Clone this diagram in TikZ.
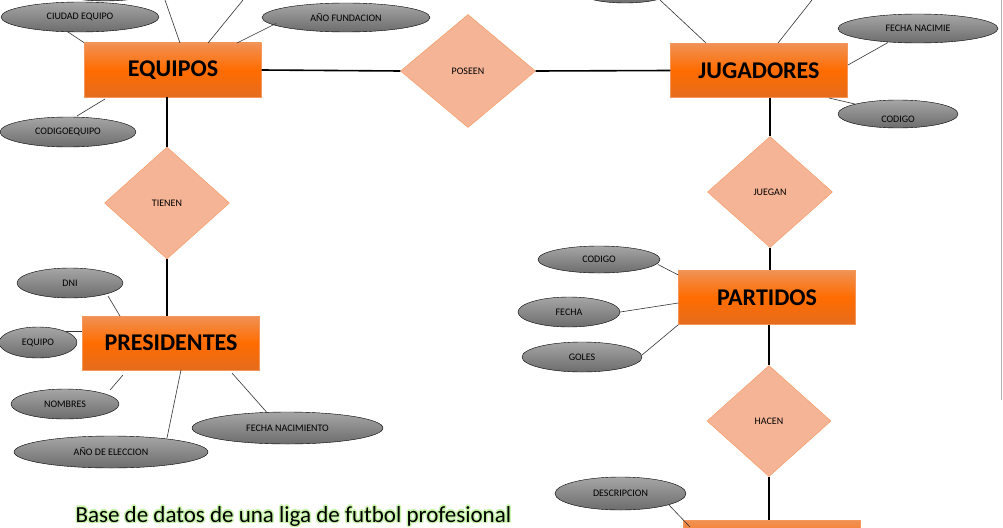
\documentclass[tikz,border=0pt]{standalone}
\usepackage{fontspec}
\setmainfont{Carlito}
\usetikzlibrary{shapes.geometric}
\definecolor{ortop}{RGB}{240,145,85}
\definecolor{orbot}{RGB}{228,108,30}
\definecolor{dfill}{RGB}{245,180,150}
\definecolor{dline}{RGB}{245,150,90}
\definecolor{glow}{RGB}{200,245,170}
\tikzset{
 ent/.style={draw=dline,top color=ortop,bottom color=orbot,middle color=orange!85!red,minimum width=177pt,minimum height=54pt,font=\bfseries\fontsize{24}{24}\selectfont,inner sep=0pt},
 rel/.style={diamond,draw=dline,fill=dfill,aspect=1.1,inner sep=0pt,font=\fontsize{10}{10}\selectfont},
 att/.style={ellipse,draw=black,top color=gray!70,bottom color=gray!85!black,inner sep=0pt,font=\fontsize{10}{10}\selectfont},
 ln/.style={draw=black!80,line width=0.6pt},
 thk/.style={draw=black,line width=1.6pt}
}
\begin{document}
\begin{tikzpicture}[x=1pt,y=-1pt]
\useasboundingbox[fill=white] (0,0) rectangle (1003,527);
\draw[gray!60,line width=1pt] (1001,0) -- (1001,400);
% entities
\node[ent] (eq) at (173,70) {EQUIPOS};
\node[ent] (ju) at (759,70.5) {JUGADORES};
\node[ent] (pr) at (171,343) {PRESIDENTES};
\node[ent] (pa) at (767,297.5) {PARTIDOS};
\node[ent,anchor=north] (bt) at (772,520) {};
% relations
\node[rel,minimum width=135pt,minimum height=113pt] (po) at (468,71) {POSEEN};
\node[rel,minimum width=125pt,minimum height=112pt] (ti) at (167,203) {TIENEN};
\node[rel,minimum width=125pt,minimum height=111pt] (jg) at (770,192) {JUEGAN};
\node[rel,minimum width=124pt,minimum height=111pt] (ha) at (769,421) {HACEN};
% relation links
\draw[thk] (eq.east) -- (po.west);
\draw[thk] (po.east) -- (ju.west);
\draw[thk] (ti.north |- eq.south) -- (ti.north);
\draw[thk] (ti.south) -- (ti.south |- pr.north);
\draw[thk] (jg.north |- ju.south) -- (jg.north);
\draw[thk] (jg.south) -- (jg.south |- pa.north);
\draw[thk] (ha.north |- pa.south) -- (ha.north);
\draw[thk] (ha.south) -- (ha.south |- bt.north);
% attributes
\node[att,minimum width=100pt,minimum height=22pt] (t1) at (105,-10) {};
\node[att,minimum width=158pt,minimum height=30pt] (ce) at (80,17) {CIUDAD EQUIPO};
\node[att,minimum width=168pt,minimum height=29pt] (af) at (346,17.5) {AÑO FUNDACION};
\node[att,minimum width=136pt,minimum height=30pt] (ceq) at (68,132) {CODIGOEQUIPO};
\node[att,minimum width=90pt,minimum height=22pt] (t2) at (625,-8) {};
\node[att,minimum width=160pt,minimum height=29pt] (fn) at (918,28.5) {FECHA NACIMIE};
\node[att,minimum width=120pt,minimum height=28pt] (cj) at (898,114) {};
\node[font=\fontsize{10}{10}\selectfont] at (898,119) {CODIGO};
\node[att,minimum width=106pt,minimum height=30pt] (dni) at (70,283) {DNI};
\node[att,minimum width=78pt,minimum height=31pt] (eqp) at (38,342.5) {EQUIPO};
\node[att,minimum width=108pt,minimum height=30pt] (nom) at (65,404) {NOMBRES};
\node[att,minimum width=194pt,minimum height=32pt] (ae) at (111,452) {AÑO DE ELECCION};
\node[att,minimum width=191pt,minimum height=32pt] (fnc) at (287.5,428) {FECHA NACIMIENTO};
\node[att,minimum width=122pt,minimum height=27pt] (cp) at (599,259.5) {CODIGO};
\node[att,minimum width=102pt,minimum height=30pt] (fe) at (569,312) {FECHA};
\node[att,minimum width=120pt,minimum height=30pt] (go) at (582,357) {GOLES};
\node[att,minimum width=131pt,minimum height=33pt] (de) at (620.5,493.5) {DESCRIPCION};
% attribute links
\coordinate (c1) at (165,0); \coordinate (c2) at (243,0);
\coordinate (c3) at (660,0); \coordinate (c4) at (812,0);
\draw[ln] (c1) -- (180,43);
\draw[ln] (c2) -- (208,43);
\draw[ln] (ce) ++(-12,15) -- (eq.north west);
\draw[ln] (af) ++(-70,6) -- (237,43);
\draw[ln] (ceq) ++(9,-16) -- (105,99);
\draw[ln] (c3) -- (706,43);
\draw[ln] (c4) -- (778,43);
\draw[ln] (fn) ++(-30,14) -- (848,65);
\draw[ln] (829,98) -- (cj);
\draw[ln] (dni) ++(38,13) -- (120,316);
\draw[ln] (eqp.north east) -- (pr.west |- eqp.north east);
\draw[ln] (nom) ++(45,-14) -- (123,375);
\draw[ln] (ae) ++(56,-14) -- (181,370);
\draw[ln] (fnc) ++(-21,-16) -- (232,373);
\draw[ln] (cp) ++(59,5) -- (pa.west |- 0,275);
\draw[ln] (fe.east) -- (pa.west |- 0,303);
\draw[ln] (go) ++(60,-2) -- (pa.south west);
\draw[ln] (de) ++(48,11) -- (690,527);
% title
\foreach \dx/\dy in {-1.5/0,1.5/0,0/-1.5,0/1.5,-1/-1,1/1,-1/1,1/-1}
  \node[anchor=west,text=glow,font=\fontsize{23}{23}\selectfont] at (72+\dx,516+\dy) {Base de datos de una liga de futbol profesional};
\node[anchor=west,font=\fontsize{23}{23}\selectfont] (title) at (72,516) {Base de datos de una liga de futbol profesional};
\end{tikzpicture}
\end{document}
